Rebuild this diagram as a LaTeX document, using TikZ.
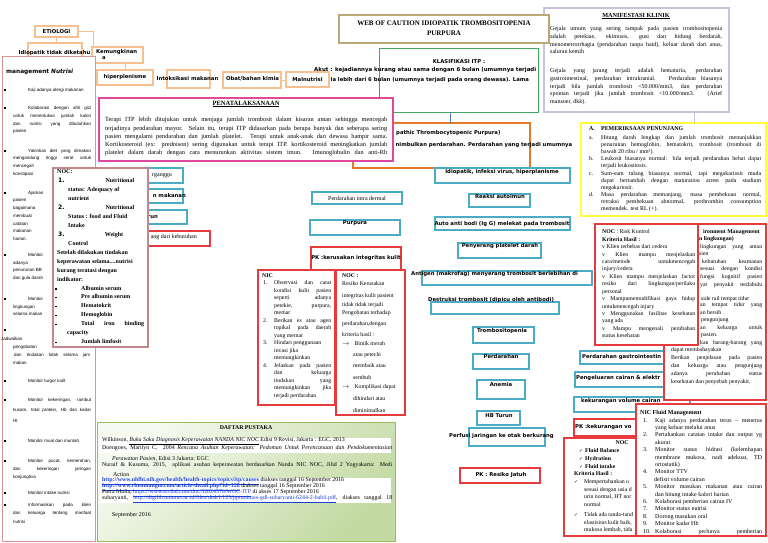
\documentclass[tikz,border=0pt]{standalone}
\usepackage{fontspec}
\setmainfont{Liberation Serif}
\newfontfamily\dvs{DejaVu Sans}
\newfontfamily\lis{Liberation Sans}
\usetikzlibrary{calc}
\definecolor{cPeach}{HTML}{F8C08E}
\definecolor{cTeal}{HTML}{4BACC6}
\definecolor{cRed}{HTML}{E8393C}
\definecolor{cMag}{HTML}{E0489E}
\definecolor{cLav}{HTML}{C9C1DE}
\definecolor{cYel}{HTML}{FFFF3C}
\definecolor{cGrn}{HTML}{3DAA5E}
\definecolor{cOrg}{HTML}{E67A28}
\definecolor{cBlu}{HTML}{4A7EBB}
\definecolor{cTan}{HTML}{BCA876}
\definecolor{cPink}{HTML}{D99594}
\definecolor{cMar}{HTML}{C0888A}
\definecolor{cDpB}{HTML}{9BBB59}
\definecolor{cDpT}{HTML}{F6FAF0}
\definecolor{cDpE}{HTML}{C3DAA3}
\definecolor{cLink}{HTML}{1A3FD6}
\newcommand\jst[2]{\makebox[#1][s]{#2}}
\newcommand\sz[2]{\fontsize{#1}{#2}\selectfont}
\newcommand\lblfont{\dvs\bfseries\sz{5.3}{6.2}}
\newcommand\mgf{\lis\sz{4.5}{7.9}}
\newcommand\sqb{\rule[0.5pt]{1.6pt}{1.6pt}}
\newcommand\ckm{{\dvs\sz{4.6}{5}✓}}
\newcommand\mkbox[6]{\node[#1,minimum width={(#5)-(#3)},minimum height={(#6)-(#4)}] (#2) at (#3,#4) {};}
\begin{document}
\begin{tikzpicture}[x=1pt,y=-1pt,
  bx/.style={anchor=north west, inner sep=0pt, outer sep=0pt, fill=white, line width=1.1pt},
  pk/.style={bx, draw=cPeach},
  tl/.style={bx, draw=cTeal},
  rd/.style={bx, draw=cRed, line width=1.2pt},
  lab/.style={font=\lblfont, inner sep=0pt},
  srf/.style={font=\sz{6}{7}, inner sep=0pt},
  tx/.style={anchor=north west, inner sep=0pt, align=left},
  pkl/.style={draw=cPeach, line width=1pt},
  mgi/.style={tx, font=\mgf},
  bul/.style={fill=black, inner sep=0pt, minimum size=1.4pt},
  dpl/.style={anchor=west, inner sep=0pt, font=\sz{5.9}{7}},
  evl/.style={anchor=west, inner sep=0pt, font=\sz{5.8}{7}}]
\useasboundingbox (0,0) rectangle (768,543);
\fill[white] (0,0) rectangle (768,543);

% ---------------- top etiology row
\mkbox{pk}{et}{35}{26}{78}{37}
\node[lab] (ett) at (et.center) {ETIOLOGI};
\mkbox{pk}{idb}{28}{43}{82}{60}
\node[lab] (idt) at (54.5,53) {Idiopatik tidak diketahu};
\mkbox{pk}{kem}{92}{47}{143}{63}
\node[lab, tx] (kemt) at (96,49) {Kemungkinan\\\hspace*{6pt}a};
\mkbox{pk}{hip}{97}{70}{153}{85}
\node[lab] (hipt) at (hip.center) {hiperplenisme};
\mkbox{pk}{ink}{167}{70}{210}{88}
\mkbox{pk}{obt}{223}{72}{281}{88}
\node[lab] (inkt) at (187.5,79) {Intoksikasi makanan};
\node[lab] (obtt) at (252.5,79) {Obat/bahan kimia};
\draw[pkl] (et.east) -| ($(kem.north west)+(1.5,0)$);
\draw[pkl] (et.south) -- (et.south |- idb.north);
\draw[pkl] (hip.north) -- (hip.north |- kem.south);

% ---------------- klasifikasi
\mkbox{bx, draw=cGrn, line width=1pt}{klas}{379}{49}{538}{112}
\node[lab] (klast) at (459,62) {KLASIFIKASI ITP :};
\node[anchor=west, inner sep=0pt, font=\dvs\bfseries\sz{5.45}{6.2}] (akut) at (314,70.3) {Akut : kejadiannya kurang atau sama dengan 6 bulan (umumnya terjadi};
\mkbox{pk}{mal}{286}{72}{329}{87}
\node[lab] (malt) at (mal.center) {Malnutrisi};
\node[lab, anchor=west] (kron) at (330.5,80.5) {la lebih dari 6 bulan (umumnya terjadi pada orang dewasa). Lama};
\draw[pkl] (obt.east) -- (obt.east -| mal.west);

% ---------------- orange definition box
\mkbox{bx, draw=cOrg, line width=1.5pt}{orb}{353}{123}{530}{168}
\node[lab, anchor=west] (ort1) at (396,133) {pathic Thrombocytopenic Purpura)};
\node[lab, anchor=west] (ort2) at (395.5,145) {nimbulkan perdarahan. Perdarahan yang terjadi umumnya};
\coordinate (kb) at (450,112);
\draw[cBlu, line width=0.8pt] (kb) -- (kb |- orb.north);

% ---------------- penatalaksanaan
\mkbox{bx, draw=cMag, line width=1.3pt}{pen}{99}{98}{393}{161}
\node[font=\bfseries\sz{6.5}{8}, inner sep=0pt] (pent) at (246,104) {\underline{PENATALAKSANAAN}};
\node[tx, font=\sz{6.3}{8.25}] (penp) at (105,117.3) {%
\jst{282pt}{Terapi ITP lebih ditujukan untuk menjaga jumlah trombosit dalam kisaran aman sehingga mencegah}\\
\jst{282pt}{terjadinya pendarahan mayor. Selain itu, terapi ITP didasarkan pada berapa banyak dan seberapa sering}\\
\jst{282pt}{pasien mengalami pendarahan dan jumlah platelet. Terapi untuk anak-anak dan dewasa hampir sama.}\\
\jst{282pt}{Kortikosteroid (ex: prednison) sering digunakan untuk terapi ITP. kortikosteroid meningkatkan jumlah}\\
\jst{282pt}{platelet dalam darah dengan cara menurunkan aktivitas sistem imun. Imunoglobulin dan anti-Rh}};

% ---------------- manifestasi klinik
\mkbox{bx, draw=cLav, line width=1.2pt}{man}{544}{8}{729}{112}
\node[font=\bfseries\sz{6.2}{7}, inner sep=0pt] (mant) at (636,16) {\underline{MANIFESTASI KLINIK}};
\node[tx, font=\sz{6}{7.6}] (manp1) at (550,26.5) {%
\jst{172pt}{Gejala umum yang sering tampak pada pasien trombositopenia}\\
\jst{172pt}{adalah petekiae, ekimosis, gusi dan hidung berdarah,}\\
\jst{172pt}{menometrorrhagia (pendarahan tanpa haid), keluar darah dari anus,}\\
saluran kemih};
\node[tx, font=\sz{6}{7.7}] (manp2) at (550,68.5) {%
\jst{172pt}{Gejala yang jarang terjadi adalah hematuria, perdarahan}\\
\jst{172pt}{gastrointestinal, perdarahan intrakranial. Perdarahan biasanya}\\
\jst{172pt}{terjadi bila jumlah trombosit \textless50.000/mm3, dan perdarahan}\\
\jst{172pt}{spontan terjadi jika jumlah trombosit \textless10.000/mm3. (Arief}\\
mansoer, dkk).};

% ---------------- title
\mkbox{bx, draw=cTan, line width=1.3pt}{ttl}{339}{15}{549}{43}
\node[font=\bfseries\sz{7}{10}, align=center, inner sep=0pt] (ttlt) at (444,28.5) {WEB OF CAUTION IDIOPATIK TROMBOSITOPENIA\\PURPURA};

% ---------------- pemeriksaan penunjang
\mkbox{bx, draw=cYel, line width=1.3pt}{pem}{581}{123}{766}{216}
\coordinate (mb) at (694,112);
\draw[cLav, line width=1pt] (mb) -- (mb |- pem.north);
\node[tx, font=\sz{5.9}{7.1}] (pemt) at (589,126.5) {%
\textbf{\makebox[12pt][l]{A.}PEMERIKSAAN PENUNJANG}\\[1.8pt]
\makebox[12pt][l]{a.}\jst{160pt}{Hitung darah lengkap dan jumlah trombosit menunjukkan}\\
\hspace*{12pt}\jst{160pt}{penurunan hemoglobin, hematokrit, trombosit (trombosit di}\\
\hspace*{12pt}bawah 20 ribu / mm³).\\
\makebox[12pt][l]{b.}\jst{160pt}{Leukosit biasanya normal: bila terjadi perdarahan hebat dapat}\\
\hspace*{12pt}terjadi leukositosis.\\
\makebox[12pt][l]{c.}\jst{160pt}{Sum-sum tulang biasanya normal, tapi megakariosit muda}\\
\hspace*{12pt}\jst{160pt}{dapat bertambah dengan maturation arrest pada stadium}\\
\hspace*{12pt}megakariosit.\\
\makebox[12pt][l]{d.}\jst{160pt}{Masa perdarahan memanjang, masa pembekuan normal,}\\
\hspace*{12pt}\jst{160pt}{retraksi pembekuan abnormal, prothrombin consumption}\\
\hspace*{12pt}memendek. test RL (+).};

% ---------------- management nutrisi
\mkbox{bx, draw=cPink, line width=1pt}{mg}{2}{57}{95}{541}
\node[anchor=west, inner sep=0pt, font=\dvs\bfseries\sz{5.8}{7}] (mgt) at (6,72) {management \textit{Nutrisi}};
\foreach \yy [count=\i] in {90,108,151,193,255,299,330,381,400,441,461,493,505}
  \node[bul] (mb\i) at (5,\yy) {};
\node[mgi] (m1) at (28,87.8) {Kaji adanya alergi makanan};
\node[mgi] (m2) at (13,105.8) {\hspace*{15pt}\jst{63pt}{Kolaborasi dengan ahli gizi}\\\jst{78pt}{untuk menentukan jumlah kalori}\\\jst{78pt}{dan nutrisi yang dibutuhkan}\\pasien};
\node[mgi, font=\lis\sz{4.5}{7.7}] (m3) at (13,148.8) {\hspace*{15pt}\jst{63pt}{Yakinkan diet yang dimakan}\\\jst{78pt}{mengandung tinggi serat untuk}\\mencegah\\konstipasi};
\node[mgi, font=\lis\sz{4.5}{7.7}] (m4) at (13,190.8) {\hspace*{15pt}Ajarkan\\pasien\\bagaimana\\membuat\\catatan\\makanan\\harian.};
\node[mgi, font=\lis\sz{4.5}{7.8}] (m5) at (13,252.8) {\hspace*{15pt}Monitor\\adanya\\penurunan BB\\dan gula darah};
\node[mgi, font=\lis\sz{4.5}{7.8}] (m6) at (13,296.8) {\hspace*{15pt}Monitor\\lingkungan\\selama makan};
\node[mgi, font=\lis\sz{4.5}{8}] (m7) at (1,336.8) {Jadwalkan\\\hspace*{12pt}pengobatan\\\hspace*{13pt}\jst{76pt}{dan tindakan tidak selama jam}\\\hspace*{12pt}makan};
\node[mgi] (m8) at (28,378.8) {Monitor turgor kulit};
\node[mgi, font=\lis\sz{4.5}{10.5}] (m9) at (13,397.8) {\hspace*{15pt}\jst{63pt}{Monitor kekeringan, rambut}\\\jst{78pt}{kusam, total protein, Hb dan kadar}\\Ht};
\node[mgi] (m10) at (28,438.8) {Monitor mual dan muntah};
\node[mgi, font=\lis\sz{4.5}{8}] (m11) at (13,458.8) {\hspace*{15pt}\jst{63pt}{Monitor pucat, kemerahan,}\\\jst{78pt}{dan kekeringan jaringan}\\konjungtiva};
\node[mgi] (m12) at (28,490.8) {Monitor intake nutrisi};
\node[mgi, font=\lis\sz{4.5}{8.5}] (m13) at (13,502.8) {\hspace*{15pt}\jst{63pt}{Informasikan pada klien}\\\jst{78pt}{dan keluarga tentang manfaat}\\nutrisi};

% ---------------- boxes partly hidden behind NOC
\mkbox{tl}{h1}{110}{168}{183}{183}
\node[srf, anchor=east] (h1t) at (172,176) {rganggu};
\mkbox{tl}{h2}{110}{189}{183}{203}
\node[lab, anchor=east] (h2t) at (186,196) {n makanan};
\mkbox{tl}{h3}{110}{210}{187}{224}
\node[lab, anchor=east] (h3t) at (158,217) {run};
\mkbox{rd}{h4}{110}{231}{210}{246}
\node[srf, anchor=east] (h4t) at (197,237.5) {ang dari kebutuhan};

% ---------------- NOC left
\mkbox{bx, draw=cMar, line width=1.3pt}{nocl}{53}{168}{148}{347}
\node[tx, font=\bfseries\sz{6}{8.95}] (noclt) at (55,169.5) {%
\hspace*{2pt}NOC:\\
\hspace*{3pt}\makebox[76pt][l]{{\dvs 1.}\hfill Nutritional}\\
\hspace*{13pt}status: Adequacy of\\
\hspace*{13pt}nutrient\\
\hspace*{3pt}\makebox[76pt][l]{{\dvs 2.}\hfill Nutritional}\\
\hspace*{13pt}Status : food and Fluid\\
\hspace*{13pt}Intake\\
\hspace*{3pt}\makebox[65pt][l]{{\dvs 3.}\hfill Weight}\\
\hspace*{13pt}Control\\
\hspace*{2pt}Setelah dilakukan tindakan\\
\hspace*{2pt}keperawatan selama....nutrisi\\
\hspace*{2pt}kurang teratasi dengan\\
\hspace*{2pt}indikator:\\
\makebox[26pt][l]{\sqb}Albumin serum\\
\makebox[26pt][l]{\sqb}Pre albumin serum\\
\makebox[26pt][l]{\sqb}Hematokrit\\
\makebox[26pt][l]{\sqb}Hemoglobin\\
\makebox[26pt][l]{\sqb}\jst{63pt}{Total iron binding}\\
\hspace*{12pt}capacity\\
\makebox[26pt][l]{\sqb}Jumlah limfosit};

% ---------------- central chain
\mkbox{tl}{b1}{435}{168}{570}{183}
\node[lab, anchor=north] (b1t) at (502,169.5) {Idiopatik, infeksi virus, hiperplanisme};
\mkbox{tl}{b2}{469}{194}{530}{207}
\node[lab, anchor=north] (b2t) at (500,194) {Reaksi autoimun};
\mkbox{tl}{b3}{312}{192}{402}{204}
\node[srf] (b3t) at (b3.center) {Perdarahan intra dermal};
\mkbox{tl}{b4}{435}{217}{570}{230}
\node[lab, anchor=north] (b4t) at (502,221.5) {Auto anti bodi (Ig G) melekat pada trombosit};
\mkbox{tl}{b5}{310}{220}{400}{235}
\node[lab, anchor=north] (b5t) at (355,220.5) {Purpura};
\mkbox{tl}{b6}{458}{243}{541}{258}
\node[lab, anchor=north] (b6t) at (500,243.5) {Penyerang platelet darah};
\mkbox{rd}{b7}{311}{247}{401}{270}
\node[lab] (b7t) at (356,258) {PK :kerusakan integritas kulit};
\mkbox{tl}{b8}{422}{271}{592}{285}
\node[lab, anchor=west] (b8t) at (411,274) {Antigen (makrofag) menyerang trombosit berlebihan di};
\mkbox{tl}{b9}{431}{302}{559}{314}
\node[lab, anchor=west] (b9t) at (428,300.5) {Destruksi trombosit (dipicu oleh antibodi)};
\mkbox{tl}{b10}{473}{327}{534}{343}
\node[lab, anchor=north] (b10t) at (502,328) {Trombositopenia};
\mkbox{tl}{b11}{473}{354}{529}{369}
\node[lab, anchor=north] (b11t) at (501,354.5) {Perdarahan};
\mkbox{tl}{b12}{477}{380}{525}{399}
\node[lab, anchor=north] (b12t) at (501,382.5) {Anemia};
\mkbox{tl}{b13}{477}{411}{520}{425}
\node[lab, anchor=north] (b13t) at (499,413.5) {HB Turun};
\mkbox{tl}{b14}{469}{428}{545}{446}
\node[lab, anchor=west] (b14t) at (449,436) {Perfusi jaringan ke otak berkurang};
\mkbox{rd}{b15}{460}{468}{540}{483}
\node[lab] (b15t) at (501,475) {PK : Resiko Jatuh};

% ---------------- NIC / NOC integritas kulit
\mkbox{rd}{nic}{258}{270}{335}{405}
\node[tx, font=\sz{5.8}{7.5}] (nict) at (262,273.3) {%
\textbf{NIC}\\
\hspace*{1pt}\makebox[11pt][l]{1.}\jst{57pt}{Observasi dan catat}\\
\hspace*{12pt}\jst{57pt}{kondisi kulit pasien}\\
\hspace*{12pt}\jst{57pt}{seperti adanya}\\
\hspace*{12pt}\jst{57pt}{petekie, purpura,}\\
\hspace*{12pt}memar\\
\hspace*{1pt}\makebox[11pt][l]{2.}\jst{57pt}{Berikan es atau agen}\\
\hspace*{12pt}\jst{57pt}{topikal pada daerah}\\
\hspace*{12pt}yang memar\\
\hspace*{1pt}\makebox[11pt][l]{3.}Hindari penggunaan\\
\hspace*{12pt}invasi jika\\
\hspace*{12pt}memungkinkan\\
\hspace*{1pt}\makebox[11pt][l]{4.}\jst{57pt}{Jelaskan pada pasien}\\
\hspace*{12pt}\jst{57pt}{dan keluarga}\\
\hspace*{12pt}\jst{57pt}{tindakan yang}\\
\hspace*{12pt}\jst{57pt}{memungkinkan jika}\\
\hspace*{12pt}terjadi perdarahan};
\mkbox{rd}{nocm}{336}{270}{405}{415}
\foreach \yy/\txt [count=\i] in {276/{\textbf{NOC :}}, 284/{Resiko Kerusakan}, 296/{integritas kulit pasient}, 305/{tidak tidak terjadi}, 313/{Pengobatan terhadap}, 324/{perdarahan,dengan}, 335/{kriteria hasil :}, 344/{$\rightarrow$\hspace{5pt}Bintik merah}, 355/{\hspace*{11pt}atau petechi}, 366/{\hspace*{11pt}membaik atau}, 378/{\hspace*{11pt}sembuh}, 387/{$\rightarrow$\hspace{5pt}Komplikasi dapat}, 399/{\hspace*{11pt}dihindari atau}, 411/{\hspace*{11pt}diminimalkan}}
  \node[anchor=west, inner sep=0pt, font=\sz{5.8}{7}] (nocm\i) at (342,\yy) {\txt};

% ---------------- right chain
\mkbox{tl}{b16}{580}{351}{690}{364}
\node[lab, anchor=west] (b16t) at (582,357) {Perdarahan gastrointestin};
\mkbox{tl}{b17}{575}{372}{690}{387}
\node[lab, anchor=west] (b17t) at (576,378) {Pengeluaran cairan \& elektr};
\mkbox{tl}{b18}{574}{397}{690}{412}
\node[lab, anchor=west] (b18t) at (581,401.5) {kekurangan volume cairan};
\mkbox{rd}{b19}{574}{419}{690}{436}
\node[lab, anchor=west] (b19t) at (575,427) {PK :kekurangan vo};

% environment management (left part hidden behind NOC risk box)
\mkbox{rd}{env}{664}{224}{766}{400}
\node[inner sep=0pt, anchor=east, font=\bfseries\sz{5.8}{7}] (env0) at (760,232) {ironment Management};
\foreach \xx/\yy/\txt [count=\i] in {699/239/{\textbf{n lingkungan)}}, 699/254/{sien}, 701/299/{side rail tempat tidur}, 700/313/{an bersih}, 701/320/{pengunjung}, 701/335/{pasien.}}
  \node[evl] (envw\i) at (\xx,\yy) {\txt};
\foreach \xx/\ww/\yy/\txt [count=\i] in {700/62/247/{lingkungan yang aman}, 702/60/262/{kebutuhan keamanan}, 700/62/269/{sesuai dengan kondisi}, 700/62/277/{fungsi kognitif pasien}, 700/62/285/{yat penyakit terdahulu}, 700/62/305/{an tempat tidur yang}, 700/62/328/{an keluarga untuk}, 700/62/343/{kan barang-barang yang}}
  \node[evl] (envj\i) at (\xx,\yy) {\jst{\ww pt}{\txt}};
\node[tx, font=\sz{5.8}{8}] (envb) at (671,347.3) {%
dapat membahayakan\\
\jst{91pt}{Berikan penjelasan pada pasien}\\
\jst{91pt}{dan keluarga atau pengunjung}\\
\jst{91pt}{adanya perubahan status}\\
kesehatan dan penyebab penyakit.};

\mkbox{rd}{nocr}{595}{224}{698}{345}
\node[tx, font=\sz{5.8}{7.43}] (nocrt) at (602,229.5) {%
\textbf{NOC} : Risk Kontrol\\
\textbf{Kriteria Hasil :}\\
v Klien terbebas dari cedera\\
\jst{93pt}{v Klien mampu menjelaskan}\\
\jst{93pt}{cara/metode untukmencegah}\\
injury/cedera\\
\jst{93pt}{v Klien mampu menjelaskan factor}\\
\jst{93pt}{resiko dari lingkungan/perilaku}\\
personal\\
\jst{93pt}{v Mampumemodifikasi gaya hidup}\\
untukmencegah injury\\
\jst{93pt}{v Menggunakan fasilitas kesehatan}\\
yang ada\\
\jst{93pt}{v Mampu mengenali perubahan}\\
status kesehatan};

\mkbox{rd}{nocf}{564}{438}{680}{536}
\node[font=\bfseries\sz{5.8}{7}, inner sep=0pt] (nocft) at (622,443) {NOC};
\node[tx, font=\sz{5.8}{7.7}] (nocfl) at (574,448.5) {%
\hspace*{5pt}\makebox[6pt][l]{\ckm}\textbf{Fluid Balance}\\
\hspace*{5pt}\makebox[6pt][l]{\ckm}\textbf{Hydration}\\
\hspace*{5pt}\makebox[6pt][l]{\ckm}\textbf{Fluid intake}\\
\textbf{Kriteria Hasil :}\\
\makebox[10pt][l]{\ckm}Mempertahankan u\\
\hspace*{10pt}sesuai dengan usia d\\
\hspace*{10pt}urin normal, HT nor\\
\hspace*{10pt}normal\\[2pt]
\makebox[10pt][l]{\ckm}Tidak ada tanda-tand\\
\hspace*{10pt}elastisitas kulit baik,\\
\hspace*{10pt}mukosa lembab, tida};

\mkbox{rd}{nicf}{636}{404}{766}{536}
\node[tx, font=\sz{6}{7.4}] (nicft) at (640,410.3) {%
\textbf{NIC Fluid Management}\\
\hspace*{3pt}\makebox[12pt][l]{1.}\jst{107pt}{Kaji adanya perdarahan terus -- menerus}\\
\hspace*{15pt}yang keluar melalui anus\\
\hspace*{3pt}\makebox[12pt][l]{2.}\jst{107pt}{Pertahankan catatan intake dan output yg}\\
\hspace*{15pt}akurat\\
\hspace*{3pt}\makebox[12pt][l]{3.}\jst{107pt}{Monitor status hidrasi (kelembapan}\\
\hspace*{15pt}\jst{107pt}{membrane mukosa, nadi adekuat, TD}\\
\hspace*{15pt}ortostatik)\\
\hspace*{3pt}\makebox[12pt][l]{4.}Monitor TTV\\
\hspace*{14pt}defisit volume cairan\\
\hspace*{3pt}\makebox[12pt][l]{5.}\jst{107pt}{Monitor masukan makanan atau cairan}\\
\hspace*{15pt}dan hitung intake kalori harian\\
\hspace*{3pt}\makebox[12pt][l]{6.}Kolaborasi pemberian cairan IV\\
\hspace*{3pt}\makebox[12pt][l]{7.}Monitor status nutrisi\\
\hspace*{3pt}\makebox[12pt][l]{8.}Dorong masukan oral\\
\hspace*{3pt}\makebox[12pt][l]{9.}Monitor kadar Hb\\
\hspace*{3pt}\makebox[12pt][l]{10.}\jst{107pt}{Kolaborasi perlunya pemberian}};

% ---------------- daftar pustaka
\node[anchor=north west, inner sep=0pt, draw=cDpB, line width=1pt, top color=cDpT, bottom color=cDpE, shading angle=45, minimum width=298, minimum height=119] (dp) at (97,422) {};
\node[anchor=north west, fill=white, inner sep=0pt, minimum width=291, minimum height=15] (hl1) at (100,437.5) {};
\node[anchor=north west, fill=white, inner sep=0pt, minimum width=291, minimum height=25] (hl2) at (100,477.5) {};
\node[font=\bfseries\sz{5.8}{7}, inner sep=0pt] (dpt) at (246,428) {DAFTAR PUSTAKA};
\node[dpl] (dp1) at (102,441) {Wilkinson, \textit{\underline{Buku Saku Diagnosis Keperawatan NANDA NIC NOC}} Edisi 9 Revisi, Jakarta : EGC, 2013};
\node[dpl] (dp2) at (102,448.5) {\jst{290pt}{Doengoes, Marilyn C,\ \ 2004 \textit{Rencana Asuhan Keperawatan: Pedoman Untuk Perencanaan dan Pendokumentasian}}};
\node[dpl] (dp3) at (112,459) {\textit{Perawatan Pasien}, Edisi 3 Jakarta: EGC};
\node[dpl] (dp4) at (102,465.5) {\jst{290pt}{Nuraif \& Kusuma, 2015,\ \ aplikasi asuhan keperawatan berdasarkan Nanda NIC NOC, Jilid 2 Yogyakarta: Medi}};
\node[dpl] (dp5) at (113,475) {Action};
\node[dpl] (dp6) at (102,481) {{\color{cLink}\bfseries\underline{http://www.nhlbi.nih.gov/health/health-topics/topics/itp/causes}} diakses tanggal 16 September 2016};
\node[dpl] (dp7) at (102,487) {{\color{cLink}\bfseries\underline{http://www.rheumaugm.com/article-detail.php?id=128}} diakses tanggal 16 September 2016};
\node[dpl] (dp8) at (102,493) {Putra Mulia, {\color{cLink}\underline{https://www.scribd.com/doc/52024576/WOC-ITP}} di akses 17 September 2016};
\node[dpl] (dp9) at (102,499.5) {\jst{290pt}{suharyanti, {\color{cLink}\underline{http://digilib.unimus.ac.id/files/disk1/125/jtptunimus-gdl-suharyanti-6244-2-babii.pdf}}, diakses tanggal 18}};
\node[dpl] (dp10) at (112,515) {September 2016};
\end{tikzpicture}
\end{document}
